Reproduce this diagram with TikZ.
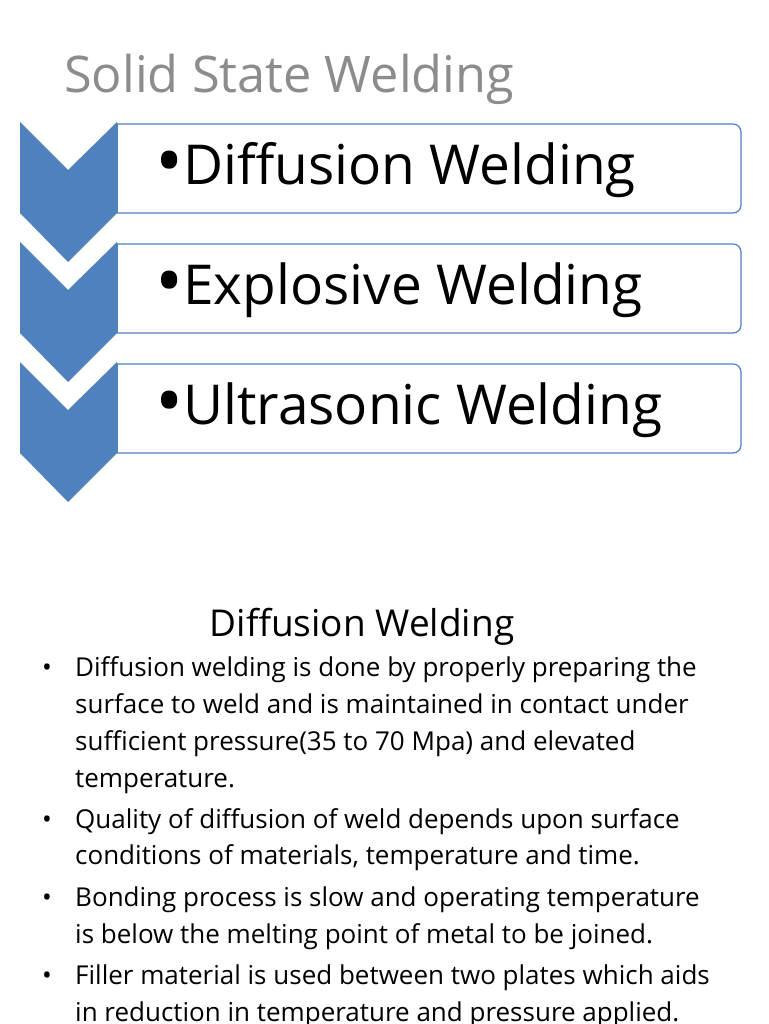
\documentclass[tikz,border=0pt]{standalone}
\usepackage{fontspec}
\setmainfont{Open Sans}
\definecolor{cblue}{HTML}{4F81BD}
\definecolor{tgray}{HTML}{8C8C8C}
\begin{document}
\begin{tikzpicture}[x=1pt,y=-1pt,
  chev/.style={fill=cblue,draw=none},
  itembox/.style={draw=cblue,line width=1.2pt,fill=white},
  big/.style={anchor=west,font=\fontsize{55}{60}\selectfont},
  body/.style={anchor=base west,font=\fontsize{26}{30}\selectfont}]
\useasboundingbox (0,0) rectangle (768,1024);
\node[anchor=base west,text=tgray,font=\fontsize{50.5}{56}\selectfont,inner sep=0] (title) at (64,93) {Solid State Welding};
\foreach \i/\t in {0/Diffusion Welding,1/Explosive Welding,2/Ultrasonic Welding}{
  \pgfmathsetmacro{\o}{120*\i}
  \fill[chev] (20,122+\o) -- (68,170+\o) -- (117,122+\o) -- (117,213+\o) -- (68,262+\o) -- (20,213+\o) -- cycle;
  \draw[itembox,rounded corners=8pt] (117,124+\o) -- (741,124+\o) -- (741,213+\o) -- (117,213+\o);
  \draw[cblue,line width=1.2pt] (117,124+\o) -- (117,213+\o);
  \node[big,inner sep=0] (item\i) at (155,170+\o) {{\fontsize{75}{60}\selectfont\raisebox{-3pt}{\textbullet}}\t};
}
\node[font=\fontsize{37}{40}\selectfont,anchor=base,inner sep=0] (h2) at (362,636) {Diffusion Welding};
\foreach \y/\t in {676/{Diffusion welding is done by properly preparing the},
  713/{surface to weld and is maintained in contact under},
  750/{sufficient pressure(35 to 70 Mpa) and elevated},
  787/{temperature.},
  828/{Quality of diffusion of weld depends upon surface},
  864/{conditions of materials, temperature and time.},
  906/{Bonding process is slow and operating temperature},
  943/{is below the melting point of metal to be joined.},
  984/{Filler material is used between two plates which aids},
  1021/{in reduction in temperature and pressure applied.}}
  \node[body,inner sep=0] at (75,\y) {\t};
\foreach \y in {676,828,906,984}
  \node[body,inner sep=0] at (42,\y) {\textbullet};
\end{tikzpicture}
\end{document}
